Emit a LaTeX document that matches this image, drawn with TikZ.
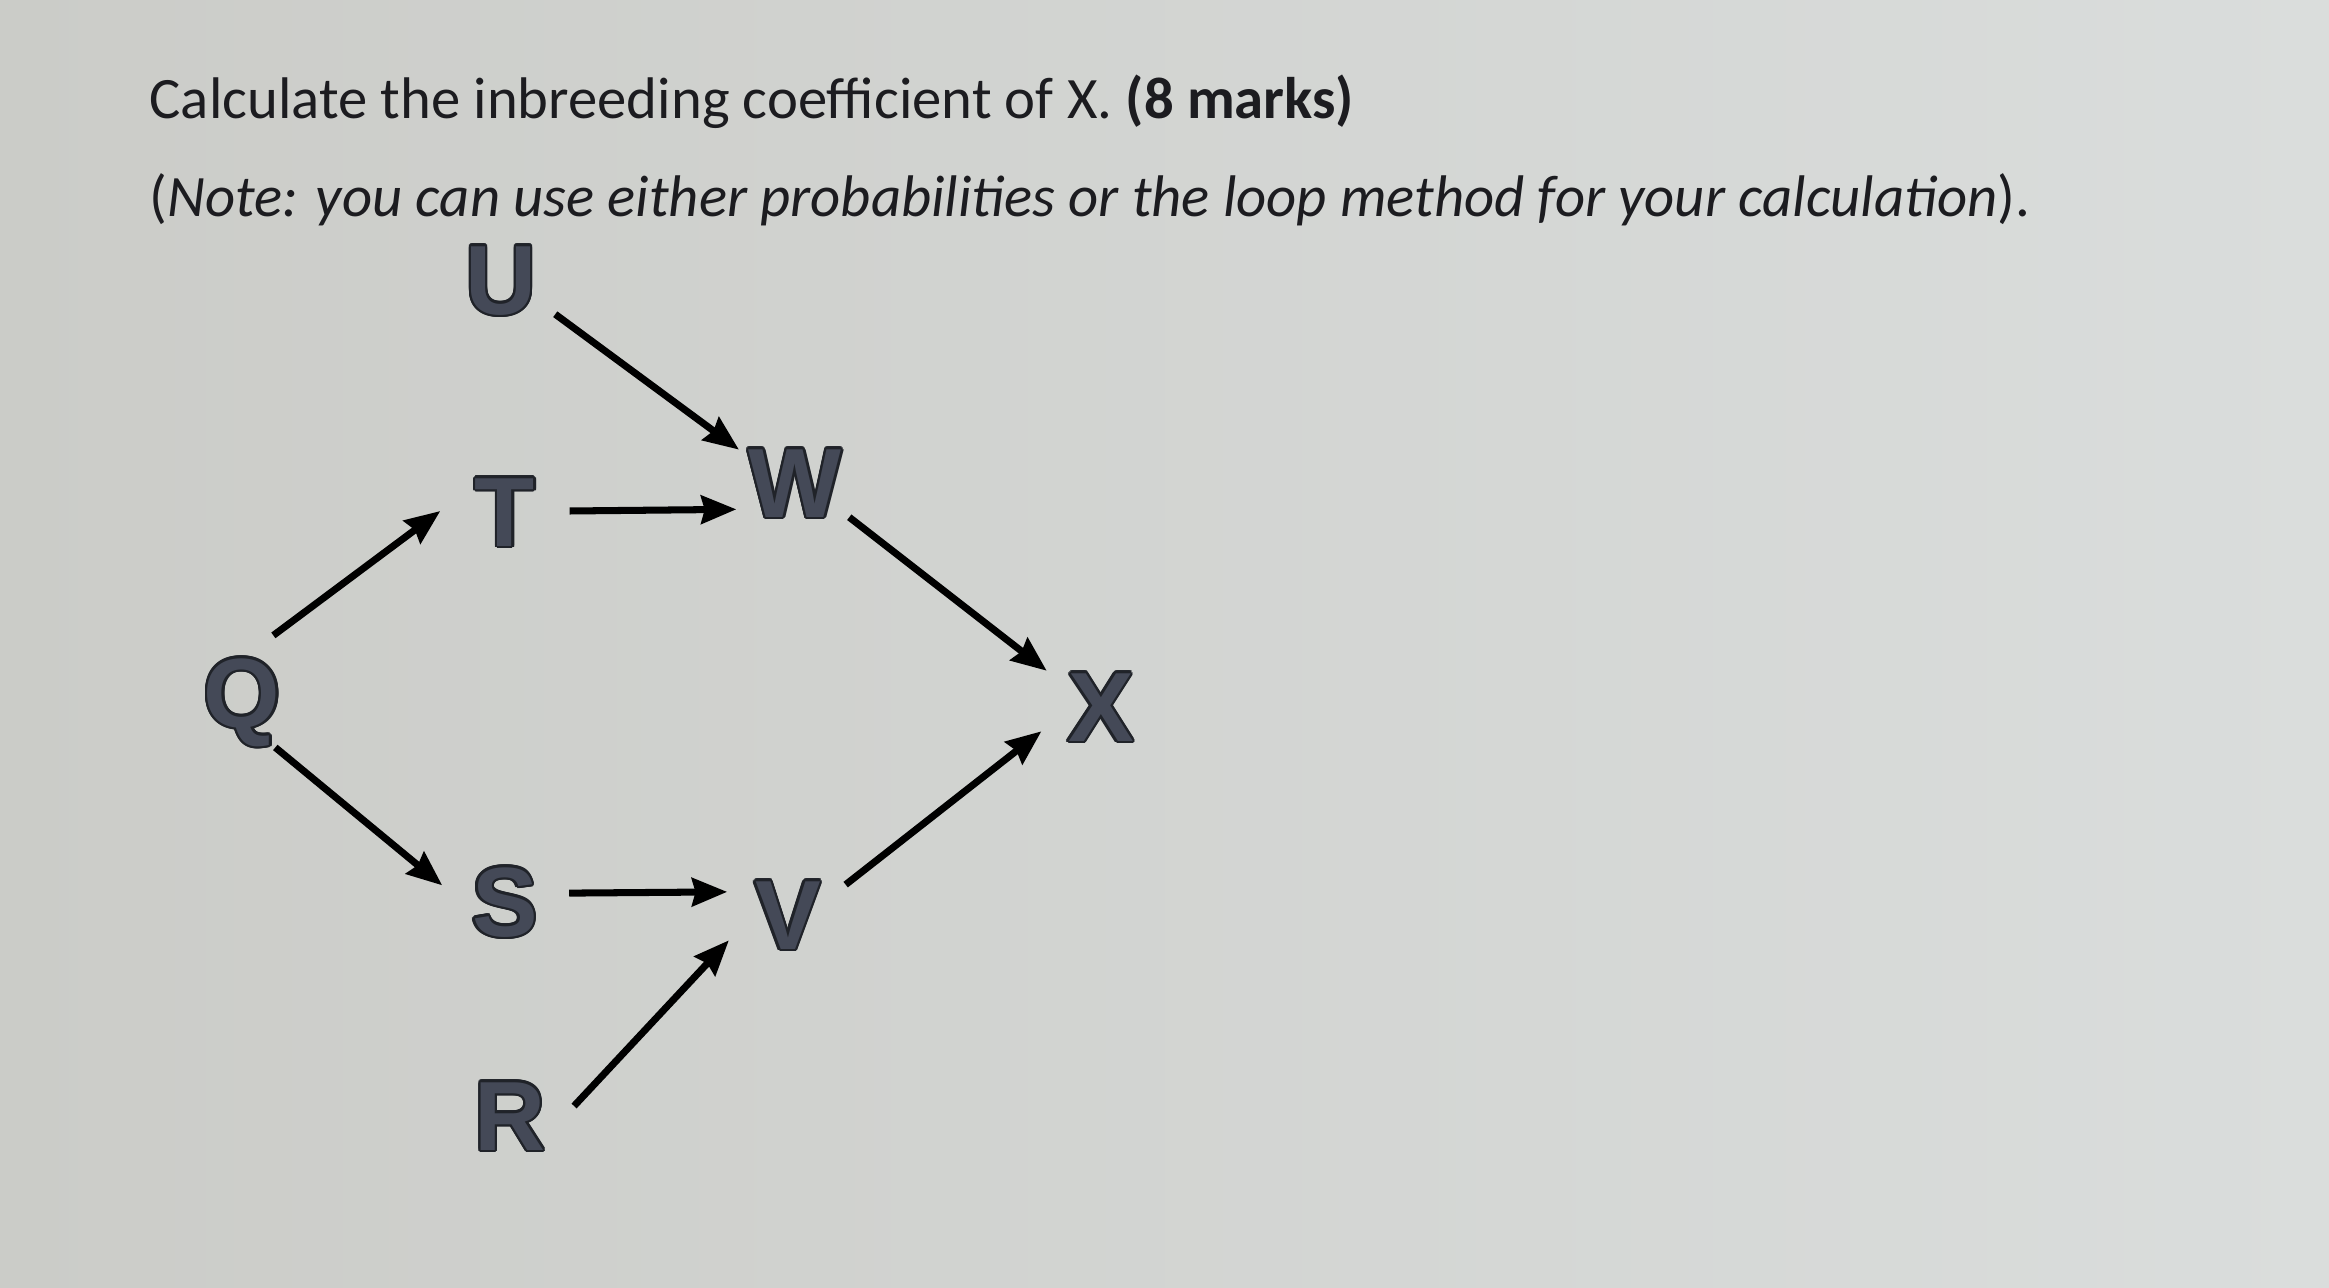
\documentclass[tikz,border=0pt]{standalone}
\usepackage{fontspec}
\usepackage[copies]{contour}
\setmainfont{Carlito}
\setsansfont{Liberation Sans}
\usetikzlibrary{arrows.meta}
\definecolor{paperleft}{HTML}{CBCCC8}
\definecolor{papermid}{HTML}{E0E2E1}
\definecolor{paperright}{HTML}{DADDDC}
\definecolor{letter}{HTML}{444957}
\definecolor{rim}{HTML}{202329}
\definecolor{ink}{HTML}{1C1C20}
\contourlength{0.7pt}
\newcommand{\ped}[1]{\contour{rim}{\textcolor{letter}{#1}}}
\tikzset{
	ind/.style={circle, minimum size=1.28cm, inner sep=0pt, text height=20pt, text depth=0pt, font=\sffamily\bfseries\fontsize{28}{28}\selectfont},
	descent/.style={line width=2pt, -{Stealth[length=10pt, width=8pt, inset=1pt]}},
	question/.style={anchor=base west, inner sep=0pt, text=ink, font=\fontsize{16.7}{20}\selectfont}
}
\begin{document}
\begin{tikzpicture}
	\shade[left color=paperleft, middle color=papermid, right color=paperright] (0, 0) rectangle (23.29, 12.87);
	\useasboundingbox (0, 0) rectangle (23.29, 12.87);
	\node[question] (title) at (1.49, 11.68) {Calculate the inbreeding coefficient of X. \textbf{(8 marks)}};
	\node[question] (note) at (1.49, 10.70) {(\textit{Note: you can use either probabilities or the loop method for your calculation}).};
	% pedigree
	\node[ind] (U) at (5.01, 10.08) {\ped{U}};
	\node[ind] (T) at (5.05, 7.76) {\ped{T}};
	\node[ind] (W) at (7.95, 8.05) {\ped{W}};
	\node[ind] (Q) at (2.42, 5.95) {\ped{Q}};
	\node[ind] (X) at (11.01, 5.81) {\ped{X}};
	\node[ind] (S) at (5.05, 3.86) {\ped{S}};
	\node[ind] (V) at (7.88, 3.73) {\ped{V}};
	\node[ind] (R) at (5.10, 1.72) {\ped{R}};
	\draw[descent] (U.-33) -- (W.150);
	\draw[descent] (T.0) -- (W.205);
	\draw[descent] (Q.61) -- (T.180);
	\draw[descent] (W.-33) -- (X.147);
	\draw[descent] (Q.-59) -- (S.166);
	\draw[descent] (S.7) -- (V.160);
	\draw[descent] (R.8) -- (V.204);
	\draw[descent] (V.27) -- (X.203);
\end{tikzpicture}
\end{document}
